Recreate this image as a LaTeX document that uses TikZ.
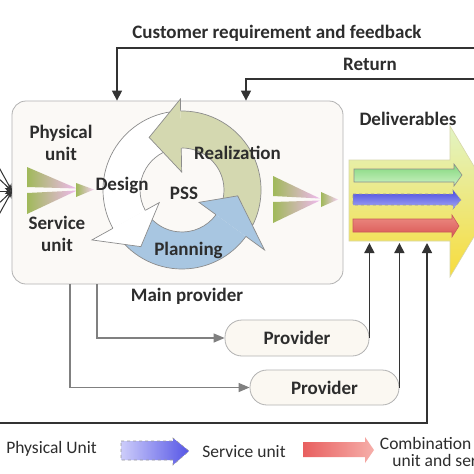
\documentclass[tikz,border=0pt]{standalone}
\usepackage{fontspec}
\setmainfont{Carlito}
\usetikzlibrary{arrows.meta,calc}
\definecolor{txt}{RGB}{45,45,45}
\definecolor{grnring}{RGB}{212,216,176}
\definecolor{bluring}{RGB}{168,198,225}
\definecolor{boxfill}{RGB}{251,249,246}
\definecolor{pillfill}{RGB}{251,248,242}
\definecolor{olive}{RGB}{160,185,90}
\definecolor{pinkish}{RGB}{240,185,240}
\newcommand\ringbody[3]{%
  \fill[#1] (#2:79) arc[start angle=#2,end angle=#3,radius=79] -- (#3:42) arc[start angle=#3,end angle=#2,radius=42] -- cycle;
  \draw[ringline] (#2:42) -- (#2:79) arc[start angle=#2,end angle=#3,radius=79];
  \draw[ringline] (#3:42) arc[start angle=#3,end angle=#2,radius=42];
}
\newcommand\ringhead[6]{%
  \fill[#1] (#2:79) -- (#2:#3) -- (#5:#6) -- (#2:#4) -- (#2:42) -- cycle;
  \draw[ringline] (#2:79) -- (#2:#3) -- (#5:#6) -- (#2:#4) -- (#2:42);
}
\begin{document}
\begin{tikzpicture}[x=1pt,y=-1pt,
  lbl/.style={font=\fontsize{19}{22}\selectfont\bfseries, text=txt, inner sep=0pt, align=center},
  leg/.style={font=\fontsize{17.5}{16.5}\selectfont, text=txt, inner sep=0pt, align=center},
  dark/.style={draw=black!80, line width=1.4pt},
  gline/.style={draw=black!50, line width=1.2pt},
  tip/.style={-{Triangle[length=10pt,width=10pt]}},
  gtip/.style={-{Triangle[length=11pt,width=9pt]}},
  ringline/.style={draw=black!45, line width=0.7pt},
  mainbox/.style={draw=black!30, line width=0.8pt, fill=boxfill, rounded corners=14pt, minimum width=331pt, minimum height=183pt, inner sep=0pt},
  pill/.style={lbl, draw=black!30, line width=0.8pt, fill=pillfill, rounded corners=17pt},
]
\useasboundingbox (0,0) rectangle (474,474);
\clip (0,0) rectangle (474,474);
\fill[white] (0,0) rectangle (474,474);

% top labels
\node[lbl] (crf) at (277,33) {Customer requirement and feedback};
\node[lbl] (ret) at (370,64) {Return};

% main box
\node[mainbox] (main) at (177.5,192.5) {};

% top connectors
\coordinate (c1) at (480,48);
\coordinate (k1) at (117,48);
\draw[dark,tip] (c1) -- (k1) -- (k1 |- main.north);
\coordinate (c2) at (480,79);
\coordinate (k2) at (246,79);
\draw[dark,tip] (c2) -- (k2) -- (k2 |- main.north);

% starburst on left
\coordinate (sb) at (12,191);
\foreach \yy in {162,176,191,206,220}{
  \coordinate (s) at (-4,\yy);
  \draw[dark,line width=1pt,-{Stealth[length=7pt,width=6pt]}] (s) -- (sb);
}

% left funnel
\shade[left color=olive, right color=pinkish] (27,167) -- (77,188.5) -- (27,187) -- cycle;
\shade[left color=olive, right color=pinkish] (27,193) -- (77,190.5) -- (27,214) -- cycle;
\shade[left color=olive, right color=pinkish!70!white] (76,183) -- (94,189.5) -- (76,197) -- cycle;
% right funnel
\shade[left color=olive, right color=pinkish] (273,176) -- (320,198.5) -- (273,196) -- cycle;
\shade[left color=olive, right color=pinkish] (273,202) -- (320,200.5) -- (273,223) -- cycle;
\shade[left color=olive, right color=pinkish!70!white] (321,192) -- (338,199.5) -- (321,207) -- cycle;

% cycle arrows
\begin{scope}[shift={(182,190)}, yscale=-1]
  \ringbody{grnring}{-26}{91}
  \ringbody{white}{98}{209}
  \ringbody{bluring}{218}{324}
  \ringhead{grnring}{91}{91}{18}{122}{62}
  \ringhead{white}{209}{103}{26}{234}{70}
  \ringhead{bluring}{324}{102}{21}{354}{56}
\end{scope}

% texts inside main box
\node[lbl] (phys) at (61,143) {Physical\\unit};
\node[lbl] (serv) at (57,234) {Service\\unit};
\node[lbl] (des) at (122,185) {Design};
\node[lbl] (pss) at (184,193) {PSS};
\node[lbl] (rea) at (237.5,153) {Realization};
\node[lbl] (pla) at (188.5,250) {Planning};
\node[lbl] (mp) at (187,296) {Main provider};

% deliverables
\node[lbl] (dlv) at (408,119) {Deliverables};
\shade[top color={rgb,255:red,226;green,244;blue,196}, middle color={rgb,255:red,248;green,240;blue,140}, bottom color={rgb,255:red,248;green,220;blue,60}, draw={rgb,255:red,215;green,215;blue,170}, line width=0.6pt]
  (349,160) -- (450,160) -- (450,126) -- (495,201.5) -- (450,277) -- (450,241) -- (349,241) -- cycle;
\shade[top color={rgb,255:red,130;green,215;blue,125}, bottom color={rgb,255:red,205;green,242;blue,195}, draw=black!45, line width=0.6pt]
  (354,169) -- (454,169) -- (454,164) -- (462,175) -- (454,186) -- (454,182) -- (354,182) -- cycle;
\shade[top color={rgb,255:red,75;green,75;blue,225}, bottom color={rgb,255:red,165;green,170;blue,242}, draw=black!40, dashed, line width=0.6pt]
  (353,194) -- (453,194) -- (453,190) -- (461,200) -- (453,209) -- (453,205) -- (353,205) -- cycle;
\shade[top color={rgb,255:red,236;green,140;blue,130}, bottom color={rgb,255:red,218;green,85;blue,85}, draw={rgb,255:red,200;green,90;blue,90}, line width=0.6pt]
  (353,219) -- (452,219) -- (452,215) -- (459,226) -- (452,237) -- (452,232) -- (353,232) -- cycle;

% providers
\node[pill, minimum width=144pt, minimum height=36pt] (p1) at (297,338) {Provider};
\node[pill, minimum width=149pt, minimum height=35pt] (p2) at (324.5,387.5) {Provider};
\coordinate (m1) at (97,0);
\coordinate (m2) at (70,0);
\draw[gline,gtip] (main.south -| m1) |- (p1.west);
\draw[gline,gtip] (main.south -| m2) |- (p2.west);

% arrows up into deliverables
\coordinate (db) at (0,243);
\draw[dark,tip] (p1.east) -- (p1.east |- db);
\draw[dark,tip] (p2.east) -- (p2.east |- db);
\coordinate (lb) at (-5,423);
\coordinate (lk) at (427,423);
\draw[dark,tip] (lb) -- (lk) -- (lk |- db);

% legend
\node[leg] (lg1) at (51.5,449) {Physical Unit};
\shade[left color={rgb,255:red,205;green,205;blue,250}, right color={rgb,255:red,85;green,85;blue,230}, draw=black!40, dashed, line width=0.6pt]
  (121,441) -- (173,441) -- (173,438) -- (189,451) -- (173,465) -- (173,460) -- (121,460) -- cycle;
\node[leg] (lg2) at (244,452) {Service unit};
\shade[left color={rgb,255:red,232;green,95;blue,95}, right color={rgb,255:red,246;green,175;blue,170}]
  (303,442) -- (365,442) -- (365,437) -- (374,450) -- (365,463) -- (365,457) -- (303,457) -- cycle;
\node[leg] (lg3) at (465,452) {Combination of physical\\unit and service unit};
\end{tikzpicture}
\end{document}
